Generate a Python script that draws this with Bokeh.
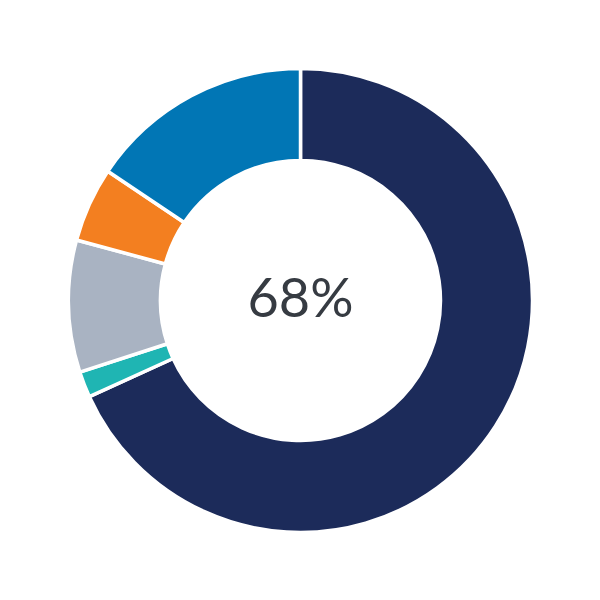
import math
from bokeh.plotting import figure
from bokeh.models import Range1d, ColumnDataSource
from bokeh.core.properties import value
from bokeh.embed import file_html
from bokeh.resources import INLINE

categories = ["A", "B", "C", "D", "E"]
shares = [68.2, 1.8, 9.2, 5.2, 15.6]
colors = ["#1c2b5a", "#1fb5b3", "#a9b3c2", "#f37f20", "#0176b5"]
center_label = "68%"

total = sum(shares)
starts, ends = [], []
cum = 0
for s in shares:
    starts.append(math.pi / 2 - 2 * math.pi * cum / total)
    cum += s
    ends.append(math.pi / 2 - 2 * math.pi * cum / total)

src = ColumnDataSource(dict(cat=categories, start=starts, end=ends, color=colors))

W = 584
p = figure(width=W, height=W, output_backend="svg", toolbar_location=None,
           x_range=Range1d(-300, W - 300), y_range=Range1d(300 - W, 300),
           min_border=0)
p.axis.visible = False
p.grid.visible = False
p.outline_line_color = None
p.background_fill_color = "white"
p.border_fill_color = "white"

p.annular_wedge(x=0, y=0, inner_radius=140, outer_radius=232,
                start_angle="start", end_angle="end", direction="clock",
                fill_color="color", line_color="white", line_width=3.5,
                source=src)

p.text(x=[0], y=[4], text=[center_label], text_align="center",
       text_baseline="middle", text_font=value("Lato"),
       text_font_size="54px", text_color="#363b42")

open("out.html", "w").write(file_html(p, INLINE))
